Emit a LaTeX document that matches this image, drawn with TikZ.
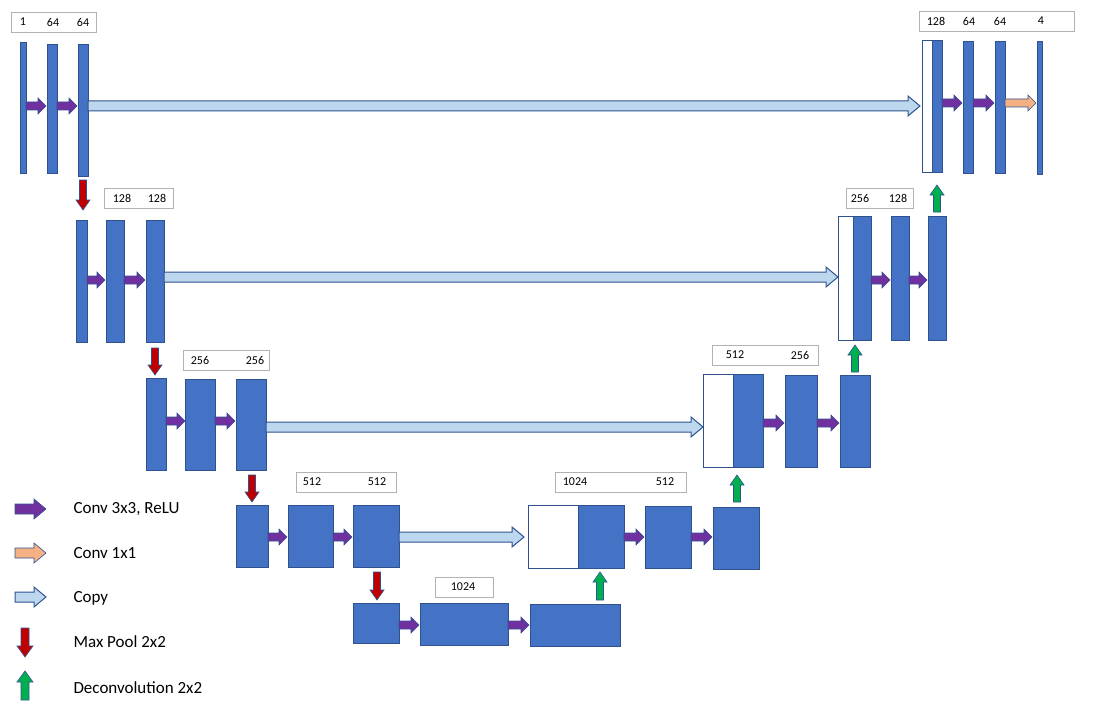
\documentclass[tikz,border=0pt]{standalone}
\usepackage{fontspec}
\setmainfont{Carlito}
\begin{document}
\definecolor{bfill}{HTML}{4472C4}
\definecolor{bdraw}{HTML}{2F528F}
\definecolor{purp}{HTML}{7030A0}
\definecolor{orng}{HTML}{F4B183}
\definecolor{cpy}{HTML}{BDD7EE}
\definecolor{redc}{HTML}{C00000}
\definecolor{grn}{HTML}{00B050}
\begin{tikzpicture}[x=1pt,y=-1pt,
  bar/.style={fill=bfill,draw=bdraw,line width=0.8pt},
  wbar/.style={fill=white,draw=bdraw,line width=0.8pt},
  lbl/.style={draw=black!30,fill=white,line width=0.6pt},
  num/.style={font=\fontsize{12}{12}\selectfont,anchor=center},
  leg/.style={font=\fontsize{17}{17}\selectfont,anchor=west},
  convs/.style={fill=purp,draw=bdraw,line width=0.6pt},
  ones/.style={fill=orng,draw=bdraw,line width=0.6pt},
  cps/.style={fill=cpy,draw=bdraw,line width=1pt},
  pools/.style={fill=redc,draw=bdraw,line width=0.6pt},
  decs/.style={fill=grn,draw=bdraw,line width=0.6pt}]
\newcommand\HA[7]{\filldraw[#7] (#1,{#3-#4}) -- ({#2-#6},{#3-#4}) -- ({#2-#6},{#3-#5}) -- (#2,#3) -- ({#2-#6},{#3+#5}) -- ({#2-#6},{#3+#4}) -- (#1,{#3+#4}) -- cycle;}
\newcommand\VA[7]{\filldraw[#7] ({#1-#4},#2) -- ({#1-#4},{#3-#6}) -- ({#1-#5},{#3-#6}) -- (#1,#3) -- ({#1+#5},{#3-#6}) -- ({#1+#4},{#3-#6}) -- ({#1+#4},#2) -- cycle;}
\newcommand\conv[3]{\HA{#1}{#2}{#3}{4}{8}{8}{convs}}
\newcommand\onex[3]{\HA{#1}{#2}{#3}{4}{8}{8}{ones}}
\newcommand\cpa[3]{\HA{#1}{#2}{#3}{5}{10}{12}{cps}}
\newcommand\pool[3]{\VA{#1}{#2}{#3}{3.5}{7}{10}{pools}}
\newcommand\dec[3]{\VA{#1}{#2}{#3}{3.5}{7}{-10}{decs}}
\useasboundingbox (0,0) rectangle (1096,709);
% level 1
\draw[lbl] (11,12) rectangle (96,32);
\node[num] at (23,22) {1}; \node[num] at (53,22) {64}; \node[num] at (83,22) {64};
\draw[bar] (20,42) rectangle (26,173);
\draw[bar] (47,44) rectangle (57,173);
\draw[bar] (78,44) rectangle (88,176);
\conv{26}{46}{106}\conv{57}{77}{106}
\cpa{88}{920}{106}
\draw[lbl] (919,11) rectangle (1074,31);
\node[num] at (936,21) {128}; \node[num] at (969,21) {64}; \node[num] at (1000,21) {64}; \node[num] at (1041,21) {4};
\draw[wbar] (922,40) rectangle (932,172);
\draw[bar] (932,40) rectangle (942,172);
\draw[bar] (963,41) rectangle (973,173);
\draw[bar] (995,41) rectangle (1005,173);
\draw[bar] (1037,41) rectangle (1042,174);
\conv{942}{962}{103}\conv{973}{994}{103}\onex{1005}{1036}{103}
% level 2
\pool{83}{180}{210}
\draw[lbl] (104,188) rectangle (173,208);
\node[num] at (122,198) {128}; \node[num] at (157,198) {128};
\draw[bar] (76,220) rectangle (87,342);
\draw[bar] (106,220) rectangle (124,342);
\draw[bar] (146,220) rectangle (164,342);
\conv{87}{105}{280}\conv{124}{145}{280}
\cpa{164}{838}{277}
\dec{937}{212}{185}
\draw[lbl] (846,188) rectangle (913,208);
\node[num] at (860,198) {256}; \node[num] at (898,198) {128};
\draw[wbar] (838,216) rectangle (853,340);
\draw[bar] (853,216) rectangle (871,340);
\draw[bar] (891,216) rectangle (909,340);
\draw[bar] (928,216) rectangle (946,340);
\conv{871}{890}{280}\conv{909}{927}{280}
% level 3
\pool{155}{348}{375}
\draw[lbl] (183,350) rectangle (269,370);
\node[num] at (200,360) {256}; \node[num] at (255,360) {256};
\draw[bar] (146,378) rectangle (166,470);
\draw[bar] (185,379) rectangle (215,470);
\draw[bar] (236,379) rectangle (266,470);
\conv{166}{185}{421}\conv{215}{235}{421}
\cpa{266}{703}{427}
\dec{855}{372}{345}
\draw[lbl] (712,345) rectangle (818,365);
\node[num] at (735,355) {512}; \node[num] at (800,355) {256};
\draw[wbar] (703,374) rectangle (733,467);
\draw[bar] (733,374) rectangle (763,467);
\draw[bar] (785,375) rectangle (817,467);
\draw[bar] (840,375) rectangle (870,467);
\conv{763}{784}{423}\conv{817}{839}{423}
% level 4
\pool{252}{475}{502}
\draw[lbl] (296,472) rectangle (396,492);
\node[num] at (312,482) {512}; \node[num] at (377,482) {512};
\draw[bar] (236,505) rectangle (268,567);
\draw[bar] (288,505) rectangle (333,567);
\draw[bar] (353,505) rectangle (399,567);
\conv{268}{287}{537}\conv{333}{352}{537}
\cpa{399}{524}{537}
\dec{737}{502}{475}
\draw[lbl] (555,472) rectangle (686,492);
\node[num] at (575,482) {1024}; \node[num] at (665,482) {512};
\draw[wbar] (528,505) rectangle (578,568);
\draw[bar] (578,505) rectangle (624,568);
\draw[bar] (645,506) rectangle (691,568);
\draw[bar] (713,507) rectangle (759,569);
\conv{624}{644}{537}\conv{691}{712}{537}
% level 5
\pool{377}{572}{600}
\dec{600}{600}{572}
\draw[lbl] (435,577) rectangle (493,597);
\node[num] at (463,587) {1024};
\draw[bar] (353,603) rectangle (399,643);
\draw[bar] (420,603) rectangle (508,645);
\draw[bar] (530,604) rectangle (620,646);
\conv{399}{419}{625}\conv{508}{529}{625}
% legend
\HA{15}{46}{509}{5}{10}{12}{convs}
\HA{15}{46}{553}{5}{10}{12}{ones}
\HA{15}{46}{597}{5}{10}{12}{cps}
\VA{25}{628}{657}{4}{8}{11}{pools}
\VA{25}{700}{671}{4}{8}{-11}{decs}
\node[leg] at (70,509) {Conv 3x3, ReLU};
\node[leg] at (70,553) {Conv 1x1};
\node[leg] at (70,598) {Copy};
\node[leg] at (70,642) {Max Pool 2x2};
\node[leg] at (70,688) {Deconvolution 2x2};
\end{tikzpicture}
\end{document}
